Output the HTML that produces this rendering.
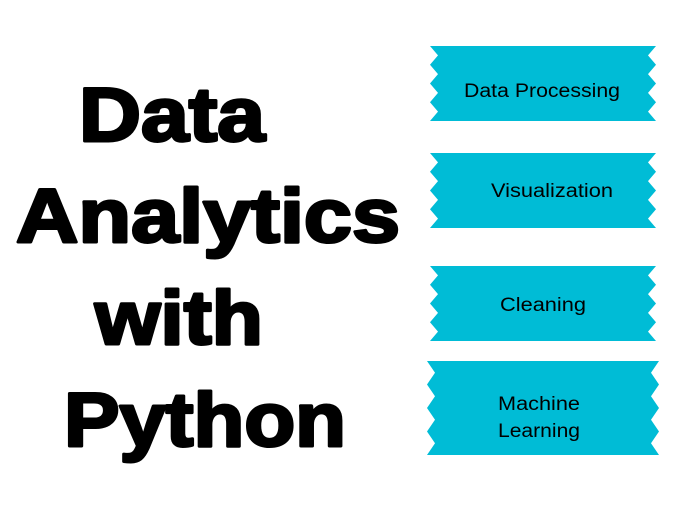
<!DOCTYPE html>
<html><head><meta charset="utf-8"><style>
html,body{margin:0;padding:0;background:#fff;}
svg{display:block;}
</style></head><body>
<svg width="680" height="510" viewBox="0 0 680 510" xmlns="http://www.w3.org/2000/svg">
<rect width="680" height="510" fill="#fff"/>
<g font-family="Liberation Sans, sans-serif" font-weight="bold" font-size="76" fill="#000" stroke="#000" stroke-width="3" stroke-linejoin="round">
<text x="79" y="141" textLength="186" lengthAdjust="spacingAndGlyphs">Data</text>
<text x="16" y="242" textLength="384" lengthAdjust="spacingAndGlyphs">Analytics</text>
<text x="95" y="344" textLength="168" lengthAdjust="spacingAndGlyphs">with</text>
<text x="64" y="446" textLength="282" lengthAdjust="spacingAndGlyphs">Python</text>
</g>
<g fill="#00BCD6">
<polygon points="430,46 656,46 648,55.4 656,64.75 648,74.1 656,83.5 648,92.9 656,102.25 648,111.6 656,121 430,121 438,111.6 430,102.25 438,92.9 430,83.5 438,74.1 430,64.75 438,55.4"/>
<polygon points="430,153 656,153 648,162.4 656,171.75 648,181.1 656,190.5 648,199.9 656,209.25 648,218.6 656,228 430,228 438,218.6 430,209.25 438,199.9 430,190.5 438,181.1 430,171.75 438,162.4"/>
<polygon points="430,266 656,266 648,275.4 656,284.75 648,294.1 656,303.5 648,312.9 656,322.25 648,331.6 656,341 430,341 438,331.6 430,322.25 438,312.9 430,303.5 438,294.1 430,284.75 438,275.4"/>
<polygon points="427,361 659,361 651,372.75 659,384.5 651,396.25 659,408 651,419.75 659,431.5 651,443.25 659,455 427,455 435,443.25 427,431.5 435,419.75 427,408 435,396.25 427,384.5 435,372.75"/>
</g>
<g font-family="Liberation Sans, sans-serif" font-size="19" fill="#000">
<text x="464" y="97" textLength="156" lengthAdjust="spacingAndGlyphs">Data Processing</text>
<text x="491" y="197" textLength="122" lengthAdjust="spacingAndGlyphs">Visualization</text>
<text x="500" y="311" textLength="86" lengthAdjust="spacingAndGlyphs">Cleaning</text>
<text x="498" y="410" textLength="82" lengthAdjust="spacingAndGlyphs">Machine</text>
<text x="498" y="437" textLength="82" lengthAdjust="spacingAndGlyphs">Learning</text>
</g>
</svg>
</body></html>
